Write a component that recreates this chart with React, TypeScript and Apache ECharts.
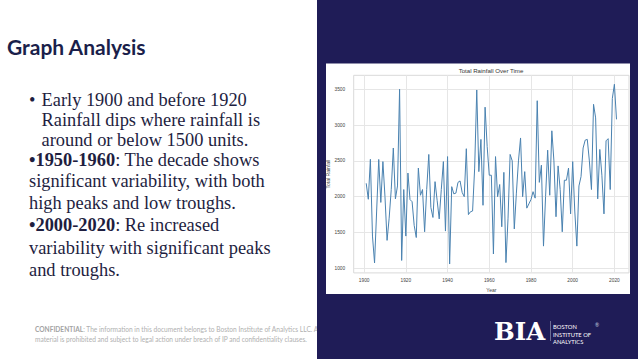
import React, { useEffect, useRef } from "react";
import * as echarts from "echarts";

const years = [
  1901, 1902, 1903, 1904, 1905, 1906, 1907, 1908, 1909, 1910,
  1911, 1912, 1913, 1914, 1915, 1916, 1917, 1918, 1919, 1920,
  1921, 1922, 1923, 1924, 1925, 1926, 1927, 1928, 1929, 1930,
  1931, 1932, 1933, 1934, 1935, 1936, 1937, 1938, 1939, 1940,
  1941, 1942, 1943, 1944, 1945, 1946, 1947, 1948, 1949, 1950,
  1951, 1952, 1953, 1954, 1955, 1956, 1957, 1958, 1959, 1960,
  1961, 1962, 1963, 1964, 1965, 1966, 1967, 1968, 1969, 1970,
  1971, 1972, 1973, 1974, 1975, 1976, 1977, 1978, 1979, 1980,
  1981, 1982, 1983, 1984, 1985, 1986, 1987, 1988, 1989, 1990,
  1991, 1992, 1993, 1994, 1995, 1996, 1997, 1998, 1999, 2000,
  2001, 2002, 2003, 2004, 2005, 2006, 2007, 2008, 2009, 2010,
  2011, 2012, 2013, 2014, 2015, 2016, 2017, 2018, 2019, 2020,
  2021,
];

const rainfall = [
  2187, 1964, 2522, 1450, 1075, 1800, 2520, 1920, 2490, 2000,
  1390, 1700, 2100, 2680, 1970, 2150, 3500, 1110, 2100, 1450,
  2330, 1960, 1930, 1600, 1430, 2400, 2020, 2100, 1510, 2100,
  2590, 1850, 1710, 2210, 1950, 1690, 2100, 2490, 1520, 2560,
  1060, 2140, 2040, 2050, 2200, 2220, 2060, 2000, 2670, 1750,
  1790, 1800, 2400, 3490, 2350, 2800, 1880, 3250, 2700, 2300,
  2300, 1200, 2560, 2000, 2170, 1580, 2340, 1080, 1700, 2590,
  2500, 1550, 2050, 2500, 2820, 2000, 2350, 1840, 1900, 1960,
  2070, 1980, 3340, 2200, 2440, 1310, 2000, 2650, 2020, 2920,
  2500, 1720, 2430, 2100, 1510, 2230, 2230, 2400, 1760, 2490,
  1800, 1310, 2150, 2280, 2680, 2790, 2800, 2500, 2100, 3290,
  3100, 1970, 2660, 2300, 1760, 2780, 2810, 2100, 3370, 3570,
  3080,
];

const xTicks = [1900, 1920, 1940, 1960, 1980, 2000, 2020];
const yTicks = [1000, 1500, 2000, 2500, 3000, 3500];

const chartTitle = "Total Rainfall Over Time";
const xName = "Year";
const yName = "Total Rainfall";
const slideTitle = "Graph Analysis";

const NAVY = "#1f1c57";
const TEXT = "#1e1e3f";
const SERIF = "'Liberation Serif', 'Times New Roman', serif";
const SANS = "'Liberation Sans', Arial, sans-serif";
const FS = 18.4;

export default function App() {
  const ref = useRef<HTMLDivElement>(null);

  useEffect(() => {
    document.body.style.margin = "0";
    if (!ref.current) return;
    const chart = echarts.init(ref.current, null, { renderer: "svg" });

    const richB = {
      b: { fontFamily: SERIF, fontSize: FS, fontWeight: "bold", fill: TEXT, color: TEXT },
      n: { fontFamily: SERIF, fontSize: FS, fill: TEXT, color: TEXT },
    };
    const bodyLine = (x: number, y: number, text: string) => ({
      type: "text",
      x,
      y,
      z: 10,
      style: {
        text,
        fontFamily: SERIF,
        fontSize: FS,
        fill: TEXT,
        verticalAlign: "middle",
        rich: richB,
      },
    });

    const option: any = {
      animation: false,
      backgroundColor: "#ffffff",
      grid: {
        left: 353.7,
        top: 75.3,
        right: 9,
        bottom: 86.1,
        show: true,
        borderColor: "#d9d9d9",
        borderWidth: 1,
        backgroundColor: "transparent",
        containLabel: false,
      },
      xAxis: {
        type: "value",
        min: 1895,
        max: 2027,
        name: xName,
        nameLocation: "middle",
        nameGap: 13,
        nameTextStyle: { fontSize: 5, color: "#444", fontFamily: SANS },
        axisLine: { show: false },
        axisTick: { show: false, customValues: xTicks },
        axisLabel: {
          customValues: xTicks,
          formatter: (v: number) => String(v),
          fontSize: 4.8,
          color: "#444",
          margin: 5,
          fontFamily: SANS,
        },
        splitLine: { show: true, lineStyle: { color: "#e6e6e6", width: 1 } },
      },
      yAxis: {
        type: "value",
        min: 936,
        max: 3695,
        name: yName,
        nameLocation: "middle",
        nameGap: 19.5,
        nameTextStyle: { fontSize: 5, color: "#444", fontFamily: SANS },
        axisLine: { show: false },
        axisTick: { show: false, customValues: yTicks },
        axisLabel: {
          customValues: yTicks,
          formatter: (v: number) => String(v),
          fontSize: 4.8,
          color: "#444",
          margin: 8.5,
          fontFamily: SANS,
        },
        splitLine: { show: true, lineStyle: { color: "#e6e6e6", width: 1 } },
      },
      series: [
        {
          type: "line",
          data: years.map((y, i) => [y, rainfall[i]]),
          showSymbol: false,
          symbol: "none",
          lineStyle: { color: "#4a82b0", width: 1 },
          z: 5,
        },
      ],
      graphic: [
        {
          type: "text",
          x: 35,
          y: 329,
          z: -20,
          style: {
            text: "{b|CONFIDENTIAL}: The information in this document belongs to Boston Institute of Analytics LLC. Any use of this",
            fontFamily: "Lato",
            fontSize: 6.6,
            fill: "#b0b0b0",
            verticalAlign: "middle",
            rich: { b: { fontFamily: "Lato", fontSize: 6.6, fontWeight: "bold", fill: "#a3a3a3", color: "#a3a3a3" } },
          },
        },
        {
          type: "text",
          x: 35,
          y: 339,
          z: -20,
          style: {
            text: "material is prohibited and subject to legal action under breach of IP and confidentiality clauses.",
            fontFamily: "Lato",
            fontSize: 6.6,
            fill: "#b0b0b0",
            verticalAlign: "middle",
          },
        },
        {
          type: "rect",
          z: -10,
          shape: { x: 317, y: 0, width: 321, height: 359 },
          style: { fill: NAVY },
        },
        {
          type: "rect",
          z: -5,
          shape: { x: 326, y: 63.5, width: 304, height: 230.5 },
          style: { fill: "#ffffff" },
        },
        {
          type: "text",
          x: 491,
          y: 70,
          z: 10,
          style: {
            text: chartTitle,
            fontFamily: SANS,
            fontSize: 6.1,
            fill: "#333333",
            align: "center",
            verticalAlign: "middle",
          },
        },
        {
          type: "text",
          x: 7,
          y: 46,
          z: 10,
          style: {
            text: slideTitle,
            fontFamily: "Lato",
            fontWeight: "bold",
            fontSize: 21,
            fill: "#1b1f4b",
            verticalAlign: "middle",
          },
        },
        {
          type: "text",
          x: 29,
          y: 100,
          z: 10,
          style: { text: "•", fontFamily: SERIF, fontSize: FS, fill: TEXT, verticalAlign: "middle" },
        },
        bodyLine(41.5, 100, "Early 1900 and before 1920"),
        bodyLine(41.5, 120, "Rainfall dips where rainfall is"),
        bodyLine(41.5, 140, "around or below 1500 units."),
        bodyLine(29, 160, "{b|•1950-1960}{n|: The decade shows}"),
        bodyLine(29, 181, "significant variability, with both"),
        bodyLine(29, 203, "high peaks and low troughs."),
        bodyLine(29, 225, "{b|•2000-2020}{n|: Re increased}"),
        bodyLine(29, 248, "variability with significant peaks"),
        bodyLine(29, 270, "and troughs."),
        {
          type: "text",
          x: 494,
          y: 331,
          z: 10,
          style: {
            text: "BIA",
            fontFamily: "DejaVu Serif",
            fontWeight: "bold",
            fontSize: 24.5,
            fill: "#ffffff",
            verticalAlign: "middle",
          },
        },
        {
          type: "line",
          z: 10,
          shape: { x1: 550.5, y1: 321, x2: 550.5, y2: 341 },
          style: { stroke: "rgba(255,255,255,0.6)", lineWidth: 0.6 },
        },
        {
          type: "text",
          x: 553,
          y: 326.5,
          z: 10,
          style: { text: "BOSTON", fontFamily: "Lato", fontSize: 5.8, fill: "#ffffff", verticalAlign: "middle" },
        },
        {
          type: "text",
          x: 553,
          y: 334,
          z: 10,
          style: { text: "INSTITUTE OF", fontFamily: "Lato", fontSize: 5.8, fill: "#ffffff", verticalAlign: "middle" },
        },
        {
          type: "text",
          x: 553,
          y: 341.5,
          z: 10,
          style: { text: "ANALYTICS", fontFamily: "Lato", fontSize: 5.8, fill: "#ffffff", verticalAlign: "middle" },
        },
        {
          type: "text",
          x: 597,
          y: 324.5,
          z: 10,
          style: { text: "®", fontFamily: "Lato", fontSize: 5, fill: "#cfcfe0", align: "center", verticalAlign: "middle" },
        },
      ],
    };

    chart.setOption(option);
    return () => {
      chart.dispose();
    };
  }, []);

  return (
    <div
      ref={ref}
      style={{ position: "fixed", left: 0, top: 0, width: 638, height: 359 }}
    />
  );
}
